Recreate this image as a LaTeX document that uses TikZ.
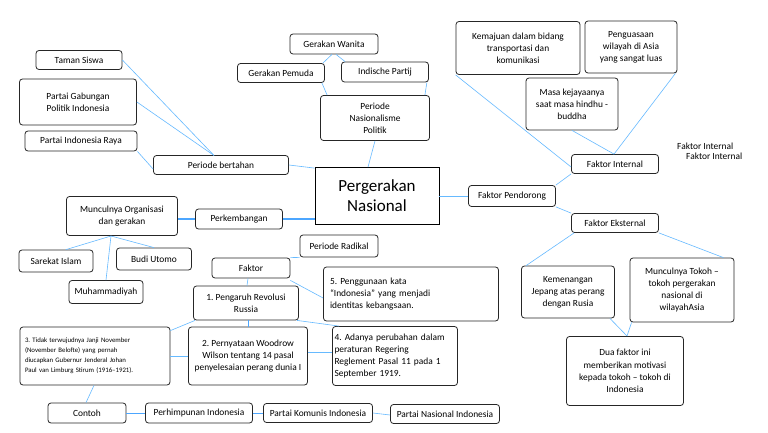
\documentclass[tikz,border=0pt]{standalone}
\usepackage{fontspec}
\setmainfont{Carlito}
\frenchspacing
\begin{document}
\begin{tikzpicture}[x=1pt,y=-1pt,
 box/.style={draw=black!85,line width=0.8pt,rounded corners=3pt,align=center,inner sep=1pt,font=\fontsize{9.4}{12.2}\selectfont},
 ln/.style={draw=blue!45!cyan!60!white,line width=0.6pt},
 tk/.style={draw=blue!50!cyan!70!white,line width=1.1pt}]
\useasboundingbox[fill=white] (0,0) rectangle (768,433);
\def\B#1#2#3#4#5#6{\node[box,minimum width=#4,minimum height=#5] (#1) at (#2,#3) {#6};}
\B{ts}{79}{60}{86}{19}{Taman Siswa}
\B{pg}{78}{102}{117}{46}{Partai Gabungan\\Politik Indonesia}
\B{pir}{81}{141}{112}{20}{Partai Indonesia Raya}
\B{pb}{221}{165}{135}{19}{Periode bertahan}
\B{gw}{334}{44}{88}{20}{Gerakan Wanita}
\B{gp}{281}{73}{87}{19}{Gerakan Pemuda}
\B{ip}{385}{72}{87}{20}{Indische Partij}
\B{pnp}{375}{118}{109}{45}{Periode\\Nasionalisme\\Politik}
\node[draw=black,line width=0.8pt,minimum width=124,minimum height=57,align=center,font=\fontsize{17}{20}\selectfont] (pn) at (377,196) {Pergerakan\\Nasional};
\B{pk}{239}{219}{87}{20}{Perkembangan}
\B{mo}{122}{216}{111}{39}{Munculnya Organisasi\\dan gerakan}
\B{si}{56}{261}{74}{22}{Sarekat Islam}
\B{bu}{154}{259}{75}{22}{Budi Utomo}
\B{mu}{106}{292}{74}{23}{Muhammadiyah}
\B{pr}{339}{246}{78}{22}{Periode Radikal}
\B{fk}{251}{268}{78}{20}{Faktor}
\node[box,minimum width=175,minimum height=54,text width=162,align=left] (p5) at (411,294) {5. Penggunaan kata\\``Indonesia'' yang menjadi\\identitas kebangsaan.};
\B{p1}{246}{303}{105}{34}{1. Pengaruh Revolusi\\Russia}
\node[box,minimum width=150,minimum height=58,text width=140,align=left,font=\fontsize{6.8}{10}\selectfont] (p3) at (95,356) {3. Tidak terwujudnya Janji November\\(November Belofte) yang pernah\\diucapkan Gubernur Jenderal Johan\\Paul van Limburg Stirum (1916--1921).};
\B{p2}{248}{356}{119}{58}{2. Pernyataan Woodrow\\Wilson tentang 14 pasal\\penyelesaian perang dunia I}
\node[box,minimum width=125,minimum height=59,text width=121,align=left] (p4) at (395,356) {4. Adanya perubahan dalam\\peraturan Regering\\Reglement Pasal 11 pada 1\\September 1919.};
\B{ct}{87}{413}{78}{20}{Contoh}
\B{phi}{199}{413}{107}{20}{Perhimpunan Indonesia}
\B{pki}{318}{413}{109}{19}{Partai Komunis Indonesia}
\B{pni}{445}{414}{109}{19}{Partai Nasional Indonesia}
\B{km}{518}{48}{124}{53}{Kemajuan dalam bidang\\transportasi dan\\komunikasi}
\B{pw}{631}{47}{92}{52}{Penguasaan\\wilayah di Asia\\yang sangat luas}
\B{mk}{572}{104}{92}{52}{Masa kejayaanya\\saat masa hindhu -\\buddha}
\B{fi}{615}{164}{87}{19}{Faktor Internal}
\B{fp}{512}{196}{87}{21}{Faktor Pendorong}
\B{fe}{615}{223}{87}{19}{Faktor Eksternal}
\B{kj}{568}{292}{93}{52}{Kemenangan\\Jepang atas perang\\dengan Rusia}
\B{mt}{682}{290}{104}{64}{Munculnya Tokoh --\\tokoh pergerakan\\nasional di\\wilayahAsia}
\B{df}{625}{371}{117}{69}{Dua faktor ini\\memberikan motivasi\\kepada tokoh -- tokoh di\\Indonesia}
\node[anchor=west,font=\fontsize{9.4}{10}\selectfont,inner sep=0] (t1) at (677,146) {Faktor Internal};
\node[anchor=west,font=\fontsize{9.4}{10}\selectfont,inner sep=0] (t2) at (686,156) {Faktor Internal};
% connectors
\coordinate (pbt) at (214,155.5);
\draw[ln] (ts.east) -- (pbt);
\draw[ln] (pg.east) -- (pbt);
\draw[ln] (pir.south east) -- ([yshift=-4]pb.west);
\draw[ln] (pb.east) -- ([yshift=-1]pn.north west);
\draw[ln] (pnp.south) -- ([xshift=-9]pn.north);
\draw[ln] ([xshift=-2]gw.south) -- ([xshift=-2]gp.north east);
\draw[ln] ([xshift=2]gw.south) -- ([xshift=4]ip.north west);
\draw[ln] ([xshift=-3]gp.south east) -- ([xshift=7]pnp.north west);
\draw[ln] ([xshift=-2]ip.south east) -- ([xshift=-5]pnp.north east);
\draw[tk] (pk.east) -- (pn.west |- pk.east);
\draw[tk] (mo.east |- pk.west) -- (pk.west);
\coordinate (mob) at (111,236);
\draw[ln] (mob) -- ([xshift=10]si.north);
\draw[ln] (mob) -- (bu.north);
\draw[ln] (mob) -- (mu.north);
\draw[ln] (fk.north east) -- (pr.south west);
\draw[ln] ([yshift=-2]fk.south east) -- ([yshift=-4]p5.west);
\draw[ln] ([xshift=-3]fk.south) -- ([xshift=1]p1.north);
\draw[ln] ([xshift=2]p1.south west) -- ([yshift=-4]p3.north east);
\draw[tk,line width=0.8pt] ([xshift=2]p1.south) -- (p2.north);
\draw[ln] ([xshift=-2]p1.south east) -- ([xshift=7]p4.north west);
\draw[ln] (p3.east) -- (p2.west);
\draw[ln] ([yshift=4]p2.east) -- ([yshift=4]p4.west);
\draw[ln] ([xshift=-1]p3.south) -- ([xshift=-1]ct.north);
\draw[tk,line width=0.9pt] (ct.east) -- (phi.west);
\draw[tk,line width=0.9pt] (phi.east) -- (pki.west);
\draw[ln] (pki.east) -- ([yshift=-1]pni.west);
\draw[ln] (pn.east |- fp.west) -- (fp.west);
\draw[ln] (fp.north east) -- (fi.south west);
\draw[ln] (fp.south east) -- (fe.north west);
\draw[ln] (km.south west) -- ([yshift=-3]fi.west);
\draw[ln] ([xshift=-2]pw.south east) -- ([xshift=-1]fi.north);
\draw[ln] (mk.south) -- ([xshift=-1]fi.north);
\draw[ln] ([xshift=3]fe.south west) -- ([xshift=5]kj.north west);
\draw[ln] (fe.south east) -- ([xshift=-11]mt.north east);
\coordinate (dft) at (627,336);
\draw[ln] ([xshift=-5]kj.south east) -- (dft);
\draw[ln] ([xshift=2]mt.south west) -- (dft);
\end{tikzpicture}
\end{document}
